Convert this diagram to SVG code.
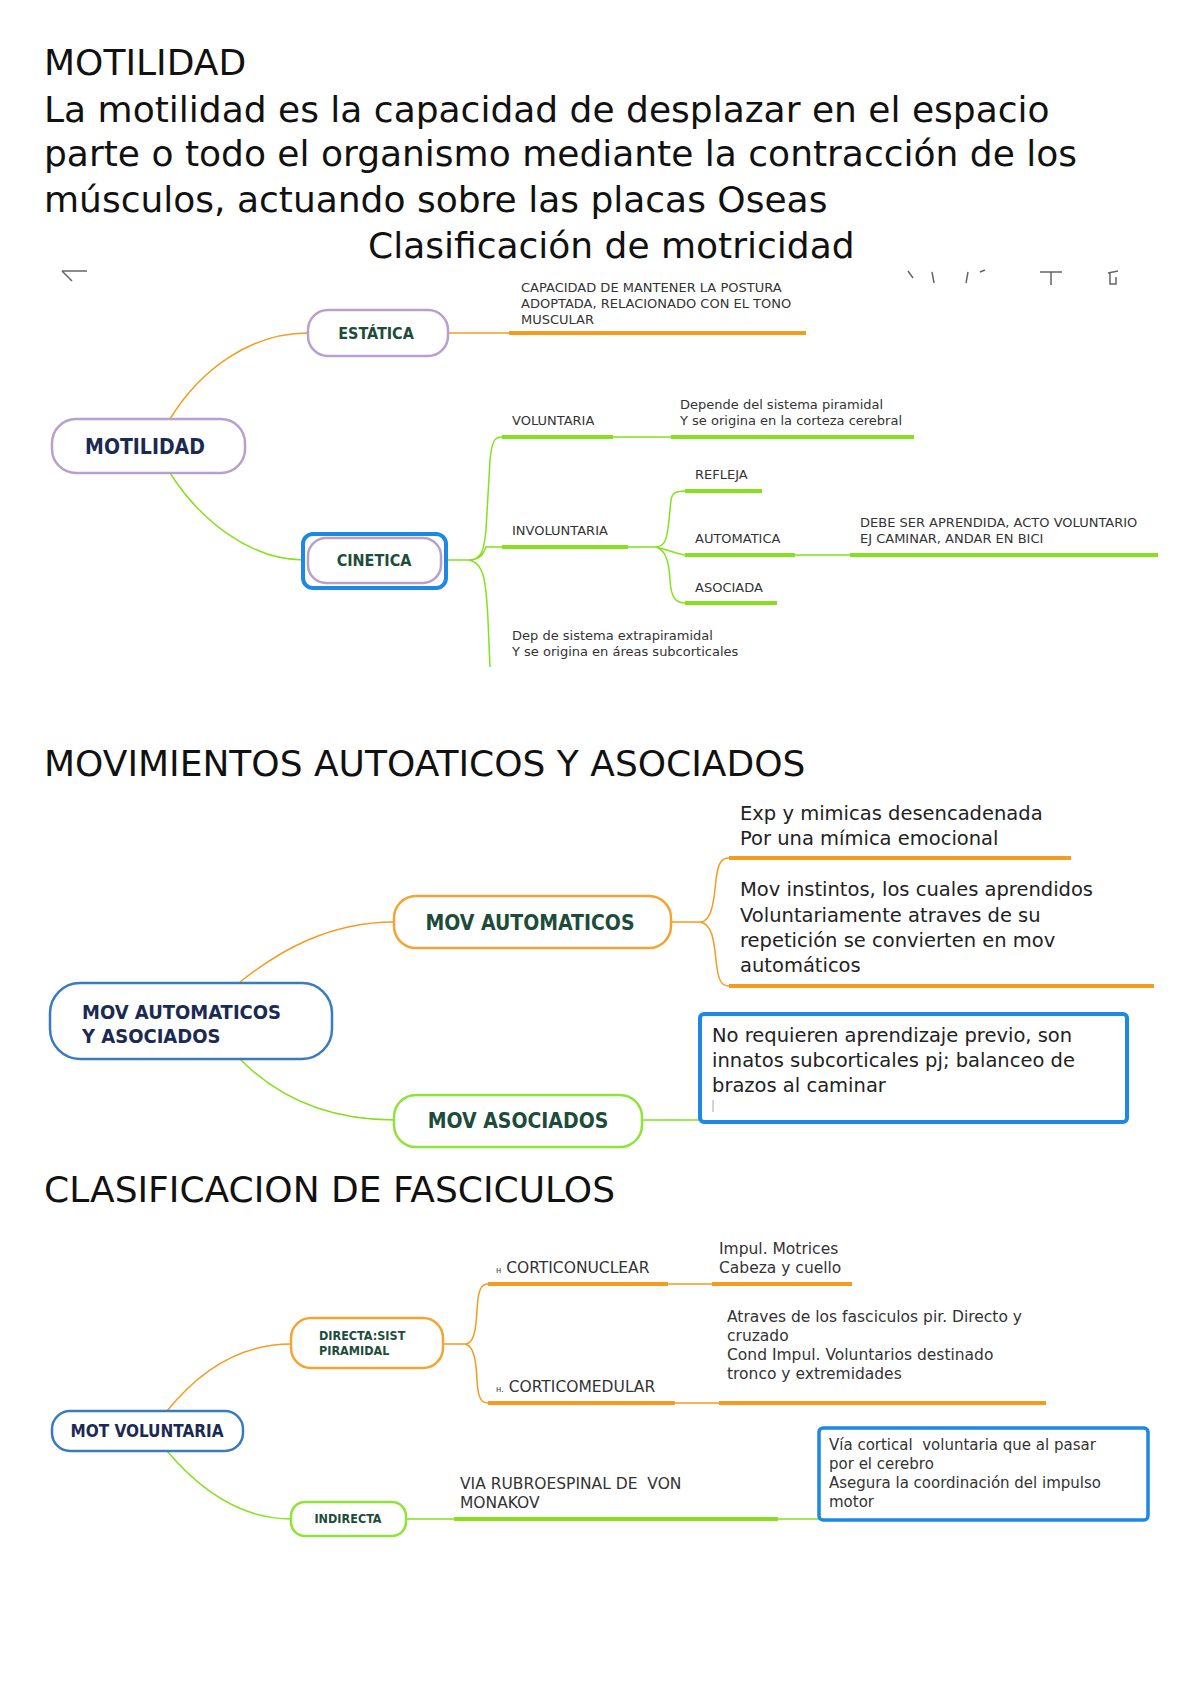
<svg xmlns="http://www.w3.org/2000/svg" width="1200" height="1698" viewBox="0 0 1200 1698">
<style>
.big{font-family:"DejaVu Sans",sans-serif;font-size:36px;fill:#111}
.sm{font-family:"DejaVu Sans",sans-serif;fill:#333}
.md{font-family:"DejaVu Sans",sans-serif;font-size:19.5px;fill:#222}
.nt{font-family:"DejaVu Sans Condensed","DejaVu Sans",sans-serif;font-weight:bold;text-anchor:middle}
.ns{font-family:"DejaVu Sans Condensed","DejaVu Sans",sans-serif;font-weight:bold}
.g{fill:#1d4d3a}.n{fill:#1a2a52}
.box{fill:#fff;stroke-width:2.5}
.pu{stroke:#b9a0cc}.or{stroke:#f3a533}.gr{stroke:#8fe33a}.bl{stroke:#3a7bbf}
.c{fill:none}
.oc{stroke:#f39c1f}.gc{stroke:#86e01e}
.thin{stroke-width:1.5}.thk{stroke-width:4}
.frag{stroke:#666;stroke-width:1.5;fill:none}
</style>
<rect width="1200" height="1698" fill="#fff"/>
<text class="big" x="44" y="75">MOTILIDAD</text>
<text class="big" x="44" y="122">La motilidad es la capacidad de desplazar en el espacio</text>
<text class="big" x="44" y="166">parte o todo el organismo mediante la contracción de los</text>
<text class="big" x="44" y="212">músculos, actuando sobre las placas Oseas</text>
<text class="big" x="368" y="258">Clasificación de motricidad</text>
<g id="fragments">
<path class="frag" d="M62 271 L87 271 M62 271 L72 281"/>
<path class="frag" d="M908 271 L913 278 M932 272 L934 283 M968 272 L966 283 M980 272 L985 270 M1040 272 L1062 272 M1051 272 L1051 285 M1108 273 L1118 271 M1110 273 L1110 284 L1116 284 L1116 277"/>
</g>
<g id="connectors">
<path class="c oc thin" d="M170 419 C200 370 250 333 308 333"/>
<path class="c gc thin" d="M170 473 C200 520 250 560 304 560"/>
<path class="c oc" stroke-width="1.5" d="M448 333 H509"/>
<path class="c oc thk" d="M509 333 H806"/>
<path class="c gc thin" d="M445 560 H468 C482 560 484 550 486 530 L490 460 C492 440 495 437 502 437 M468 560 C482 560 484 552 486 547 C488 547 495 547 502 547 M468 560 C484 562 486 580 488 620 L490 667"/>
<path class="c gc thk" d="M502 437 H613 M671 437 H914 M502 547 H628 M685 491 H762 M685 555 H795 M850 555 H1158 M685 603 H777"/>
<path class="c gc thin" d="M613 437 H671 M795 555 H850 M628 547 H655 C665 547 667 540 669 520 L671 500 C672 493 676 491 685 491 M655 547 C668 549 672 553 685 555 M655 547 C665 549 669 560 670 580 C671 598 676 603 685 603"/>
<path class="c oc thin" d="M240 982 C280 950 330 922 394 922"/>
<path class="c gc thin" d="M240 1059 C280 1100 330 1120 394 1120"/>
<path class="c oc thin" d="M671 922 H700 C712 922 714 900 716 880 C718 862 722 858 729 858 M700 922 C712 924 714 940 716 960 C718 982 722 986 729 986"/>
<path class="c oc thk" d="M729 858 H1071 M729 986 H1154"/>
<path class="c gc thin" d="M642 1120 H700"/>
<path class="c oc thin" d="M167 1411 C200 1370 240 1344 291 1344"/>
<path class="c gc thin" d="M167 1451 C200 1490 240 1519 291 1519"/>
<path class="c oc thin" d="M443 1344 H465 C474 1344 476 1330 477 1310 C478 1290 481 1284 488 1284 M465 1344 C474 1346 476 1360 477 1380 C478 1398 481 1403 488 1403 M668 1284 H712 M675 1403 H719"/>
<path class="c oc thk" d="M488 1284 H668 M712 1284 H852 M488 1403 H675 M719 1403 H1046"/>
<path class="c gc thin" d="M406 1519 H454 M778 1519 H819"/>
<path class="c gc thk" d="M454 1519 H778"/>
</g>
<g id="motilidad"><rect class="box pu" x="52" y="419" width="193" height="54" rx="24"/><text class="nt n" x="145" y="454" font-size="21">MOTILIDAD</text></g>
<g id="estatica"><rect class="box pu" x="308" y="310" width="140" height="46" rx="20"/><text class="nt g" x="376" y="339" font-size="16">ESTÁTICA</text></g>
<g id="cinetica"><rect x="303" y="534" width="143" height="54" rx="10" fill="none" stroke="#1e88e5" stroke-width="4"/><rect class="box pu" x="308" y="538" width="133" height="45" rx="18"/><text class="nt g" x="374" y="566" font-size="16">CINETICA</text></g>
<g id="t1" class="sm" font-size="13">
<text x="521" y="292">CAPACIDAD DE MANTENER LA POSTURA</text>
<text x="521" y="308">ADOPTADA, RELACIONADO CON EL TONO</text>
<text x="521" y="324">MUSCULAR</text>
<text x="512" y="425">VOLUNTARIA</text>
<text x="680" y="409">Depende del sistema piramidal</text>
<text x="680" y="425">Y se origina en la corteza cerebral</text>
<text x="512" y="535">INVOLUNTARIA</text>
<text x="695" y="479">REFLEJA</text>
<text x="695" y="543">AUTOMATICA</text>
<text x="860" y="527">DEBE SER APRENDIDA, ACTO VOLUNTARIO</text>
<text x="860" y="543">EJ CAMINAR, ANDAR EN BICI</text>
<text x="695" y="592">ASOCIADA</text>
<text x="512" y="640">Dep de sistema extrapiramidal</text>
<text x="512" y="656">Y se origina en áreas subcorticales</text>
</g>
<text class="big" x="44" y="776">MOVIMIENTOS AUTOATICOS Y ASOCIADOS</text>
<g id="movautoasoc"><rect class="box bl" x="50" y="983" width="282" height="76" rx="30"/><text class="ns n" x="82" y="1019" font-size="20">MOV AUTOMATICOS</text><text class="ns n" x="82" y="1043" font-size="20">Y ASOCIADOS</text></g>
<g id="movauto"><rect class="box or" x="394" y="896" width="277" height="52" rx="22"/><text class="nt g" x="530" y="930" font-size="21">MOV AUTOMATICOS</text></g>
<g id="movasoc"><rect class="box gr" x="394" y="1095" width="248" height="52" rx="22"/><text class="nt g" x="518" y="1128" font-size="21">MOV ASOCIADOS</text></g>
<g id="t2" class="md">
<text x="740" y="820">Exp y mimicas desencadenada</text>
<text x="740" y="845">Por una mímica emocional</text>
<text x="740" y="896">Mov instintos, los cuales aprendidos</text>
<text x="740" y="922">Voluntariamente atraves de su</text>
<text x="740" y="947">repetición se convierten en mov</text>
<text x="740" y="972">automáticos</text>
</g>
<g id="boxasoc"><rect x="700" y="1014" width="427" height="108" rx="4" fill="#fff" stroke="#1e88e5" stroke-width="4"/>
<g class="md"><text x="712" y="1042">No requieren aprendizaje previo, son</text><text x="712" y="1067">innatos subcorticales pj; balanceo de</text><text x="712" y="1092">brazos al caminar</text></g>
<path d="M713 1100 V1112" stroke="#aaa" stroke-width="1"/></g>
<text class="big" x="44" y="1202">CLASIFICACION DE FASCICULOS</text>
<g id="motvol"><rect class="box bl" x="52" y="1411" width="191" height="40" rx="18"/><text class="nt n" x="147" y="1437" font-size="17">MOT VOLUNTARIA</text></g>
<g id="directa"><rect class="box or" x="291" y="1318" width="152" height="50" rx="20"/><text class="ns g" x="319" y="1340" font-size="12.5">DIRECTA:SIST</text><text class="ns g" x="319" y="1355" font-size="12.5">PIRAMIDAL</text></g>
<g id="indirecta"><rect class="box gr" x="291" y="1502" width="115" height="34" rx="14"/><text class="nt g" x="348" y="1523" font-size="12.5">INDIRECTA</text></g>
<g id="t3" class="sm" font-size="15.5">
<text x="496" y="1273"><tspan font-size="8">ʜ</tspan> CORTICONUCLEAR</text>
<text x="719" y="1254">Impul. Motrices</text>
<text x="719" y="1273">Cabeza y cuello</text>
<text x="496" y="1392"><tspan font-size="8">ʜ.</tspan> CORTICOMEDULAR</text>
<text x="727" y="1322">Atraves de los fasciculos pir. Directo y</text>
<text x="727" y="1341">cruzado</text>
<text x="727" y="1360">Cond Impul. Voluntarios destinado</text>
<text x="727" y="1379">tronco y extremidades</text>
<text x="460" y="1489" xml:space="preserve">VIA RUBROESPINAL DE  VON</text>
<text x="460" y="1508">MONAKOV</text>
</g>
<g id="boxvia"><rect x="819" y="1428" width="329" height="92" rx="4" fill="#fff" stroke="#1e88e5" stroke-width="3.5"/>
<g class="sm" font-size="15"><text x="829" y="1450" xml:space="preserve">Vía cortical  voluntaria que al pasar</text><text x="829" y="1469">por el cerebro</text><text x="829" y="1488">Asegura la coordinación del impulso</text><text x="829" y="1507">motor</text></g></g>
</svg>
